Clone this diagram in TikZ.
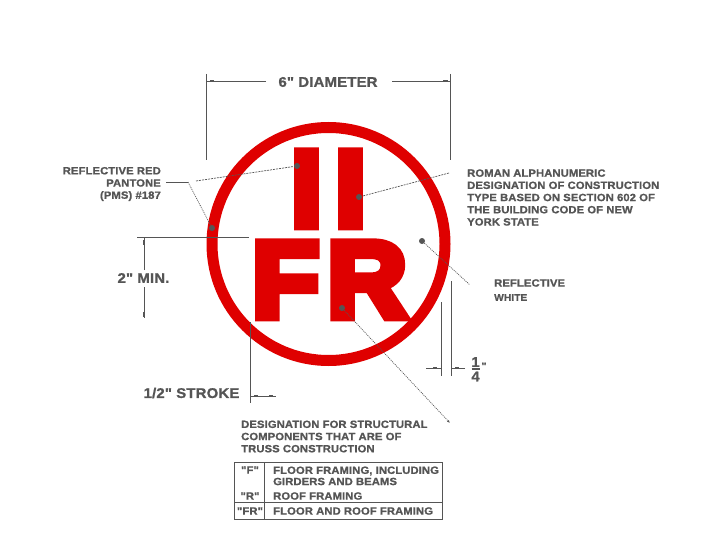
\documentclass[tikz,border=0pt]{standalone}
\usepackage{fontspec}
\newfontfamily\lab{Liberation Sans Bold}[FakeStretch=1.07,LetterSpace=1,FakeBold=1]
\newfontfamily\heavy{Liberation Sans Bold}[FakeBold=8,FakeStretch=1.02]
\definecolor{ink}{HTML}{555555}
\definecolor{sign}{HTML}{DF0000}
\usetikzlibrary{arrows.meta}
\tikzset{
 dim/.style={draw=ink,line width=0.9pt},
 tick/.style={draw=ink,line width=2pt},
 lead/.style={draw=ink,line width=0.7pt,dash pattern=on 2pt off 1pt},
 leadd/.style={draw=ink,line width=0.7pt,dash pattern=on 1pt off 1pt},
 dotm/.style={circle,fill=ink,inner sep=0pt,minimum size=6pt},
 small/.style={text=ink,inner sep=0pt,font=\lab\fontsize{10.5}{12.2}\selectfont},
 big/.style={text=ink,inner sep=0pt,font=\lab\fontsize{14}{15}\selectfont},
 giant/.style={text=sign,inner sep=0pt,font=\heavy\fontsize{108}{108}\selectfont},
}
\begin{document}
\begin{tikzpicture}[x=1pt,y=-1pt]
\useasboundingbox (0,0) rectangle (720,540);
\fill[white] (0,0) rectangle (720,540);
% sign
\node[circle,draw=sign,line width=11pt,minimum size=233pt,inner sep=0pt,fill=white] (ring) at (328.5,244) {};
\node[giant,anchor=base] (ii1) at (306.5,226) {I};
\node[giant,anchor=base] (ii2) at (350.5,226) {I};
\node[giant,anchor=base] (fr) at (329.5,317) {F\kern 8pt R};
% dots
\node[dotm] (d1) at (297,166) {};
\node[dotm] (d2) at (212,228) {};
\node[dotm] (d3) at (359,197) {};
\node[dotm] (d4) at (422,241) {};
\node[dotm] (d5) at (342,308) {};
% top dimension
\coordinate (e1a) at (206,74); \coordinate (e1b) at (206,160);
\coordinate (e2a) at (450,74); \coordinate (e2b) at (450,160);
\node[big] (dia) at (328,82) {6" DIAMETER};
\draw[dim] (e1a)--(e1b); \draw[dim] (e2a)--(e2b);
\coordinate (a1) at (206,81); \coordinate (a2) at (450,81);
\coordinate (a3) at (266,81); \coordinate (a4) at (392,81);
\draw[dim] (a3)--(a1);
\draw[dim] (a4)--(a2);
\draw[tick] (210,81)--(214,81);
\draw[tick] (443,81)--(448,81);
% reflective red
\node[small,align=right,anchor=east] (red) at (161,184) {REFLECTIVE RED\\PANTONE\\(PMS) \#187};
\coordinate (k) at (188,182);
\coordinate (k2) at (196,181);
\coordinate (k0) at (166,182);
\draw[dim] (k0)--(k);
\draw[lead] (k2)--(d1);
\draw[leadd] (k)--(d2);
% roman
\node[small,align=left,anchor=west] (rom) at (467,197.5) {ROMAN ALPHANUMERIC\\DESIGNATION OF CONSTRUCTION\\TYPE BASED ON SECTION 602 OF\\THE BUILDING CODE OF NEW\\YORK STATE};
\coordinate (r1) at (449,173);
\draw[lead] (r1)--(d3);
% white
\node[small,anchor=west] (w1) at (494,283) {REFLECTIVE};
\node[small,anchor=west,font=\lab\fontsize{9.5}{11}\selectfont] (w2) at (494,297.5) {WHITE};
\coordinate (w0) at (470,285);
\draw[leadd] (d4)--(w0);
% 2in min
\node[big] (min) at (143.5,278) {2" MIN.};
\coordinate (m1) at (137,237); \coordinate (m2) at (249,237);
\draw[dim] (m1)--(m2);
\coordinate (m3) at (144,237); \coordinate (m4) at (144,318);
\coordinate (m5) at (144,270); \coordinate (m6) at (144,287);
\draw[dim] (m5)--(m3);
\draw[dim] (m6)--(m4);
\draw[tick] (144,240)--(144,245);
\draw[tick] (144,312)--(144,317);
% stroke
\node[big] (str) at (191.5,393) {1/2" STROKE};
\coordinate (s1) at (250.5,322); \coordinate (s2) at (250.5,403);
\draw[dim] (s1)--(s2);
\coordinate (s3) at (276,396); \coordinate (s4) at (250.5,396);
\draw[dim] (s4)--(s3);
\draw[tick] (254,396)--(258,396);
\draw[tick] (269,396)--(273,396);
% quarter
\coordinate (q1) at (441,302); \coordinate (q2) at (441,376);
\coordinate (q3) at (451,281); \coordinate (q4) at (451,376);
\draw[dim] (q1)--(q2); \draw[dim] (q3)--(q4);
\coordinate (q5) at (426,368); \coordinate (q6) at (441,368);
\coordinate (q7) at (465,368); \coordinate (q8) at (451,368);
\draw[dim] (q5)--(q6);
\draw[dim] (q7)--(q8);
\draw[tick] (433,368)--(437,368);
\draw[tick] (455,368)--(459,368);
\node[text=ink,inner sep=0pt,font=\lab\fontsize{14}{14}\selectfont] (qn) at (475.5,362) {1};
\node[text=ink,inner sep=0pt,font=\lab\fontsize{14}{14}\selectfont] (qd) at (475.5,376.5) {4};
\node[text=ink,inner sep=0pt,font=\lab\fontsize{10}{10}\selectfont] (qm) at (484,366) {"};
\coordinate (b1) at (471.5,369); \coordinate (b2) at (480,369);
\draw[dim,line width=1.2pt] (b1)--(b2);
% truss
\node[small,align=left,anchor=west] (tr) at (241,436.5) {DESIGNATION FOR STRUCTURAL\\COMPONENTS THAT ARE OF\\TRUSS CONSTRUCTION};
\coordinate (t0) at (450,423);
\draw[leadd,-{Latex[length=3pt,width=2.5pt]}] (d5)--(t0);
% table
\draw[draw=ink,line width=0.9pt] (234,462) rectangle (442,519);
\coordinate (h1) at (234,502); \coordinate (h2) at (442,502);
\coordinate (h3) at (264,462); \coordinate (h4) at (264,519);
\draw[dim] (h1)--(h2);
\draw[dim] (h3)--(h4);
\node[small] (c1) at (250,470) {"F"};
\node[small] (c2) at (250,496) {"R"};
\node[small] (c3) at (250,511) {"FR"};
\node[small,anchor=west] (v1) at (273,471) {FLOOR FRAMING, INCLUDING};
\node[small,anchor=west] (v1b) at (273,481.5) {GIRDERS AND BEAMS};
\node[small,anchor=west] (v2) at (273,496) {ROOF FRAMING};
\node[small,anchor=west] (v3) at (273,511) {FLOOR AND ROOF FRAMING};
\end{tikzpicture}
\end{document}
